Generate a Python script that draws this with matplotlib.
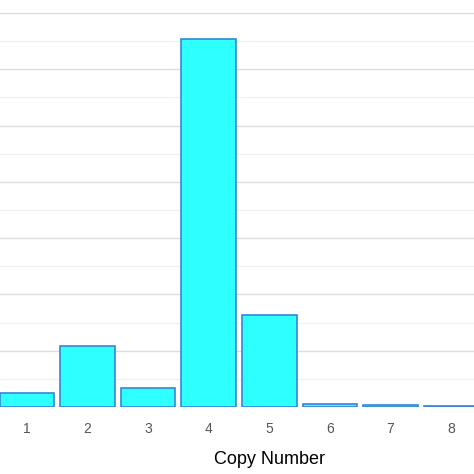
import matplotlib
matplotlib.use("Agg")
import matplotlib.pyplot as plt
from matplotlib.ticker import MultipleLocator

# copy number distribution (percent of samples)
copy_numbers = [1, 2, 3, 4, 5, 6, 7, 8]
percent = [2.5, 10.8, 3.4, 65.3, 16.3, 0.6, 0.3, 0.15]
tick_labels = ["1", "2", "3", "4", "5", "6", "7", "8"]

plt.rcParams["font.family"] = ["Liberation Sans", "DejaVu Sans"]

fig = plt.figure(figsize=(4.74, 4.74), dpi=100)
# the original chart is cropped on the left/right, so the axes fill the width
ax = fig.add_axes([0, 67 / 474, 1, 407 / 474])

ax.bar(copy_numbers, percent, width=0.9, color="#2effff",
       edgecolor="#3a85d4", linewidth=1.2, zorder=3)

ax.set_xlim(0.554, 8.38)
ax.set_ylim(0, 72.3)

ax.yaxis.set_major_locator(MultipleLocator(10))
ax.yaxis.set_minor_locator(MultipleLocator(5))
ax.grid(axis="y", which="major", color="#dcdcdc", linewidth=1.0, zorder=0)
ax.grid(axis="y", which="minor", color="#f1f1f1", linewidth=1.0, zorder=0)
ax.tick_params(axis="y", which="both", left=False, labelleft=False)

ax.set_xticks(copy_numbers)
ax.set_xticklabels(tick_labels)
ax.tick_params(axis="x", length=0, pad=11, labelsize=10, labelcolor="#555555")

for s in ax.spines.values():
    s.set_visible(False)

ax.set_xlabel("Copy Number", fontsize=13, color="black")
ax.xaxis.set_label_coords(270 / 474, -53 / 407)
ax.xaxis.label.set_va("center")

fig.savefig("out.png", dpi=100)
